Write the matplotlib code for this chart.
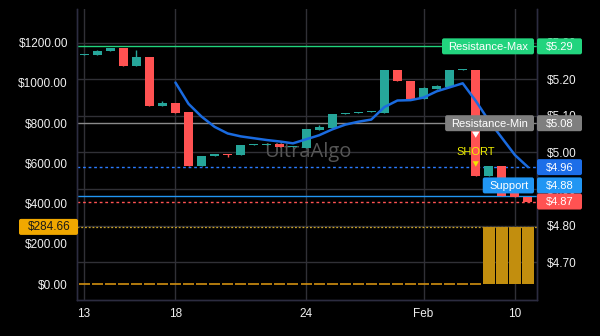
import matplotlib
matplotlib.use("Agg")
import matplotlib.pyplot as plt
import numpy as np
from matplotlib.patches import FancyBboxPatch
from matplotlib.transforms import IdentityTransform, offset_copy
from matplotlib.ticker import FuncFormatter

plt.rcParams['font.family'] = ['Liberation Sans', 'DejaVu Sans']

# ---- price data (one candle per session) ----
opens = [5.266, 5.267, 5.277, 5.286, 5.237, 5.261, 5.128, 5.135, 5.111, 4.962,
         4.990, 4.997, 4.992, 5.020, 5.020, 5.022, 5.014, 5.012, 5.062, 5.068,
         5.104, 5.107, 5.110, 5.109, 5.225, 5.195, 5.146, 5.173, 5.180, 5.224,
         5.225, 4.937, 4.964, 4.890, 4.878]
closes = [5.269, 5.277, 5.286, 5.237, 5.261, 5.128, 5.135, 5.108, 4.963, 4.991,
          4.997, 4.992, 5.021, 5.023, 5.023, 5.015, 5.017, 5.065, 5.070, 5.105,
          5.107, 5.111, 5.113, 5.225, 5.194, 5.146, 5.176, 5.183, 5.225, 5.227,
          4.937, 4.964, 4.880, 4.878, 4.866]
highs = [5.269, 5.281, 5.286, 5.286, 5.281, 5.261, 5.141, 5.135, 5.111, 4.991,
         4.997, 4.997, 5.021, 5.023, 5.023, 5.022, 5.017, 5.065, 5.076, 5.105,
         5.107, 5.111, 5.113, 5.225, 5.225, 5.195, 5.180, 5.185, 5.225, 5.227,
         5.225, 4.964, 4.964, 4.890, 4.878]
lows = [5.266, 5.267, 5.277, 5.237, 5.237, 5.128, 5.128, 5.108, 4.963, 4.962,
        4.990, 4.989, 4.992, 5.020, 5.020, 5.015, 5.014, 5.012, 5.062, 5.068,
        5.104, 5.107, 5.110, 5.109, 5.194, 5.146, 5.146, 5.173, 5.180, 5.224,
        4.937, 4.937, 4.880, 4.878, 4.866]

# moving average (starts after the warm-up period)
ma = [np.nan] * 7 + [5.191, 5.133, 5.098, 5.070, 5.052, 5.044, 5.039, 5.034,
                     5.030, 5.025, 5.036, 5.047, 5.063, 5.076, 5.084, 5.090,
                     5.124, 5.142, 5.143, 5.150, 5.167, 5.178, 5.189, 5.141,
                     5.087, 5.040, 4.993, 4.960]

# position-size histogram on the left scale
position = [0.0] * 31 + [284.66, 284.66, 284.66, 284.66]

tick_idx = [0, 7, 17, 26, 33]
tick_labels = ["13", "18", "24", "Feb", "10"]

resistance_max = 5.29
resistance_min = 5.08
support = 4.88
short_idx = 30

price_ticks = [4.70, 4.80, 4.90, 5.00, 5.10, 5.20, 5.30]
left_ticks = [0, 200, 400, 600, 800, 1000, 1200]

# ---- colours ----
BG = "#000000"
UP = "#26a69a"
DOWN = "#ff5252"
MA_C = "#1a6be0"
GREEN = "#22d47e"
GREY = "#7f7f7f"
SUPPORT_C = "#2196f3"
GOLD = "#c28e0e"
GOLD_TAG = "#f0a800"
TXT = "#f0f0f0"
GRID = "#303036"
SPINE = "#2c2c40"

W, H = 600, 336
fig = plt.figure(figsize=(W / 100, H / 100), dpi=100, facecolor=BG)
L, R, T, B = 77, 537, 9, 300
ax = fig.add_axes([L / W, (H - B) / H, (R - L) / W, (B - T) / H])
ax.set_facecolor(BG)
axv = ax.twinx()
axv.patch.set_visible(False)

x = np.arange(len(opens))
o = np.array(opens); c = np.array(closes)
hi = np.array(highs); lo = np.array(lows)
cols = [UP if cc >= oo else DOWN for oo, cc in zip(o, c)]

ax.set_xlim(-0.54, 34.69)
ax.set_ylim(4.597, 5.392)
axv.set_ylim(-78, 1365.6)

# grid
for t in price_ticks:
    ax.axhline(t, color=GRID, lw=1, zorder=0)
for t in tick_idx:
    ax.axvline(t, color=GRID, lw=1, zorder=0)

# watermark
ax.text(17.1, 5.002, "UltraAlgo", ha="center", va="center", fontsize=14.5,
        color="#555555", family=["Open Sans", "DejaVu Sans"], zorder=1)

# levels
ax.axhline(resistance_max, color=GREEN, lw=1, zorder=2)
ax.axhline(resistance_min, color="#8a8a8a", lw=1, zorder=2)
ax.axhline(support, color=SUPPORT_C, lw=1, zorder=2)
ax.axhline(closes[-1], color=DOWN, lw=1, ls=(0, (2, 2)), zorder=2)
ax.axhline(ma[-1], color="#2a7bff", lw=1, ls=(0, (2, 2)), zorder=2)

# candles
ax.vlines(x, lo, hi, color=cols, lw=1, zorder=3)
ax.bar(x, np.abs(c - o), bottom=np.minimum(o, c), width=0.69, color=cols,
       linewidth=0, zorder=4)

# moving average
ax.plot(x, ma, color=MA_C, lw=1.8, zorder=5, solid_capstyle="round")

# histogram on the left scale
pos = np.array(position)
nz = pos > 0
axv.bar(x[nz], pos[nz], width=0.94, color=GOLD, linewidth=0, zorder=2)
axv.hlines(pos[~nz], x[~nz] - 0.42, x[~nz] + 0.42, color="#d08f10", lw=1.2, zorder=2)
axv.axhline(position[-1], color="#c9a227", lw=0.9, ls=(0, (1.5, 1.5)), zorder=1)

# ticks / spines
ax.yaxis.tick_right()
ax.set_yticks(price_ticks)
ax.yaxis.set_major_formatter(FuncFormatter(lambda v, p: f"${v:.2f}"))
axv.yaxis.tick_left()
axv.set_yticks(left_ticks)
axv.yaxis.set_major_formatter(FuncFormatter(lambda v, p: f"${v:.2f}"))
ax.set_xticks(tick_idx)
ax.set_xticklabels(tick_labels)
for a in (ax, axv):
    a.tick_params(length=0, colors=TXT, labelsize=8.5)
ax.tick_params(axis="y", pad=7)
axv.tick_params(axis="y", pad=6.5)
ax.tick_params(axis="x", pad=5.5)
for a in (ax, axv):
    for s in a.spines.values():
        s.set_color(SPINE)
        s.set_linewidth(1)
    a.spines["top"].set_visible(False)

# ---- short signal markers ----
def anchored(dy):
    return offset_copy(ax.transData, fig=fig, x=0, y=dy, units="dots")

sx, sy = short_idx, closes[short_idx]
ax.annotate("", xy=(sx, sy), xycoords=anchored(35), xytext=(sx, sy),
            textcoords=anchored(45),
            arrowprops=dict(arrowstyle="simple,head_width=0.55,head_length=0.45,tail_width=0.25",
                            color="white", lw=0), zorder=6)
ax.text(sx, sy, "SHORT", transform=anchored(24), ha="center", va="center",
        fontsize=8, color="#f2f200", zorder=6)
ax.annotate("", xy=(sx, sy), xycoords=anchored(6), xytext=(sx, sy),
            textcoords=anchored(15),
            arrowprops=dict(arrowstyle="simple,head_width=0.45,head_length=0.4,tail_width=0.2",
                            color="#f2e600", lw=0), zorder=6)

# ---- price tags ----
fig.canvas.draw()
renderer = fig.canvas.get_renderer()
IDT = IdentityTransform()


def ypx(axes, value):
    return axes.transData.transform((0, value))[1]


def tag(x0, x1, yc, text, bg, fg, fs=8):
    fig.add_artist(FancyBboxPatch((x0, yc - 8), x1 - x0, 16,
                                  boxstyle="round,pad=0,rounding_size=2",
                                  transform=IDT, facecolor=bg, edgecolor="none",
                                  zorder=10))
    fig.text((x0 + x1) / 2 + 0.5, yc - 0.5, text, transform=IDT, ha="center",
             va="center", fontsize=fs, color=fg, zorder=11)


def label_width(text, fs=8):
    t = fig.text(0, 0, text, fontsize=fs)
    w = t.get_window_extent(renderer).width
    t.remove()
    return w


def inner_tag(yc, text, bg):
    w = label_width(text) + 12
    tag(534 - w, 534, yc, text, bg, "white")


y_rmax = ypx(ax, resistance_max)
y_rmin = ypx(ax, resistance_min)
y_sup = ypx(ax, support) + 11
y_ma = ypx(ax, ma[-1])
y_last = ypx(ax, closes[-1])

tag(537, 582, y_rmax, f"${resistance_max:.2f}", GREEN, "white")
inner_tag(y_rmax, "Resistance-Max", GREEN)
tag(537, 582, y_rmin, f"${resistance_min:.2f}", GREY, "white")
inner_tag(y_rmin, "Resistance-Min", GREY)
tag(537, 582, y_ma, f"${ma[-1]:.2f}", "#1c6ee8", "white")
tag(537, 582, y_sup, f"${support:.2f}", SUPPORT_C, "white")
inner_tag(y_sup, "Support", SUPPORT_C)
tag(537, 582, y_last, f"${closes[-1]:.2f}", DOWN, "white")
tag(19, 78, ypx(axv, position[-1]), f"${position[-1]:.2f}", GOLD_TAG, "#1a1a1a", fs=8.5)

fig.savefig("out.png", dpi=100, facecolor=BG)
